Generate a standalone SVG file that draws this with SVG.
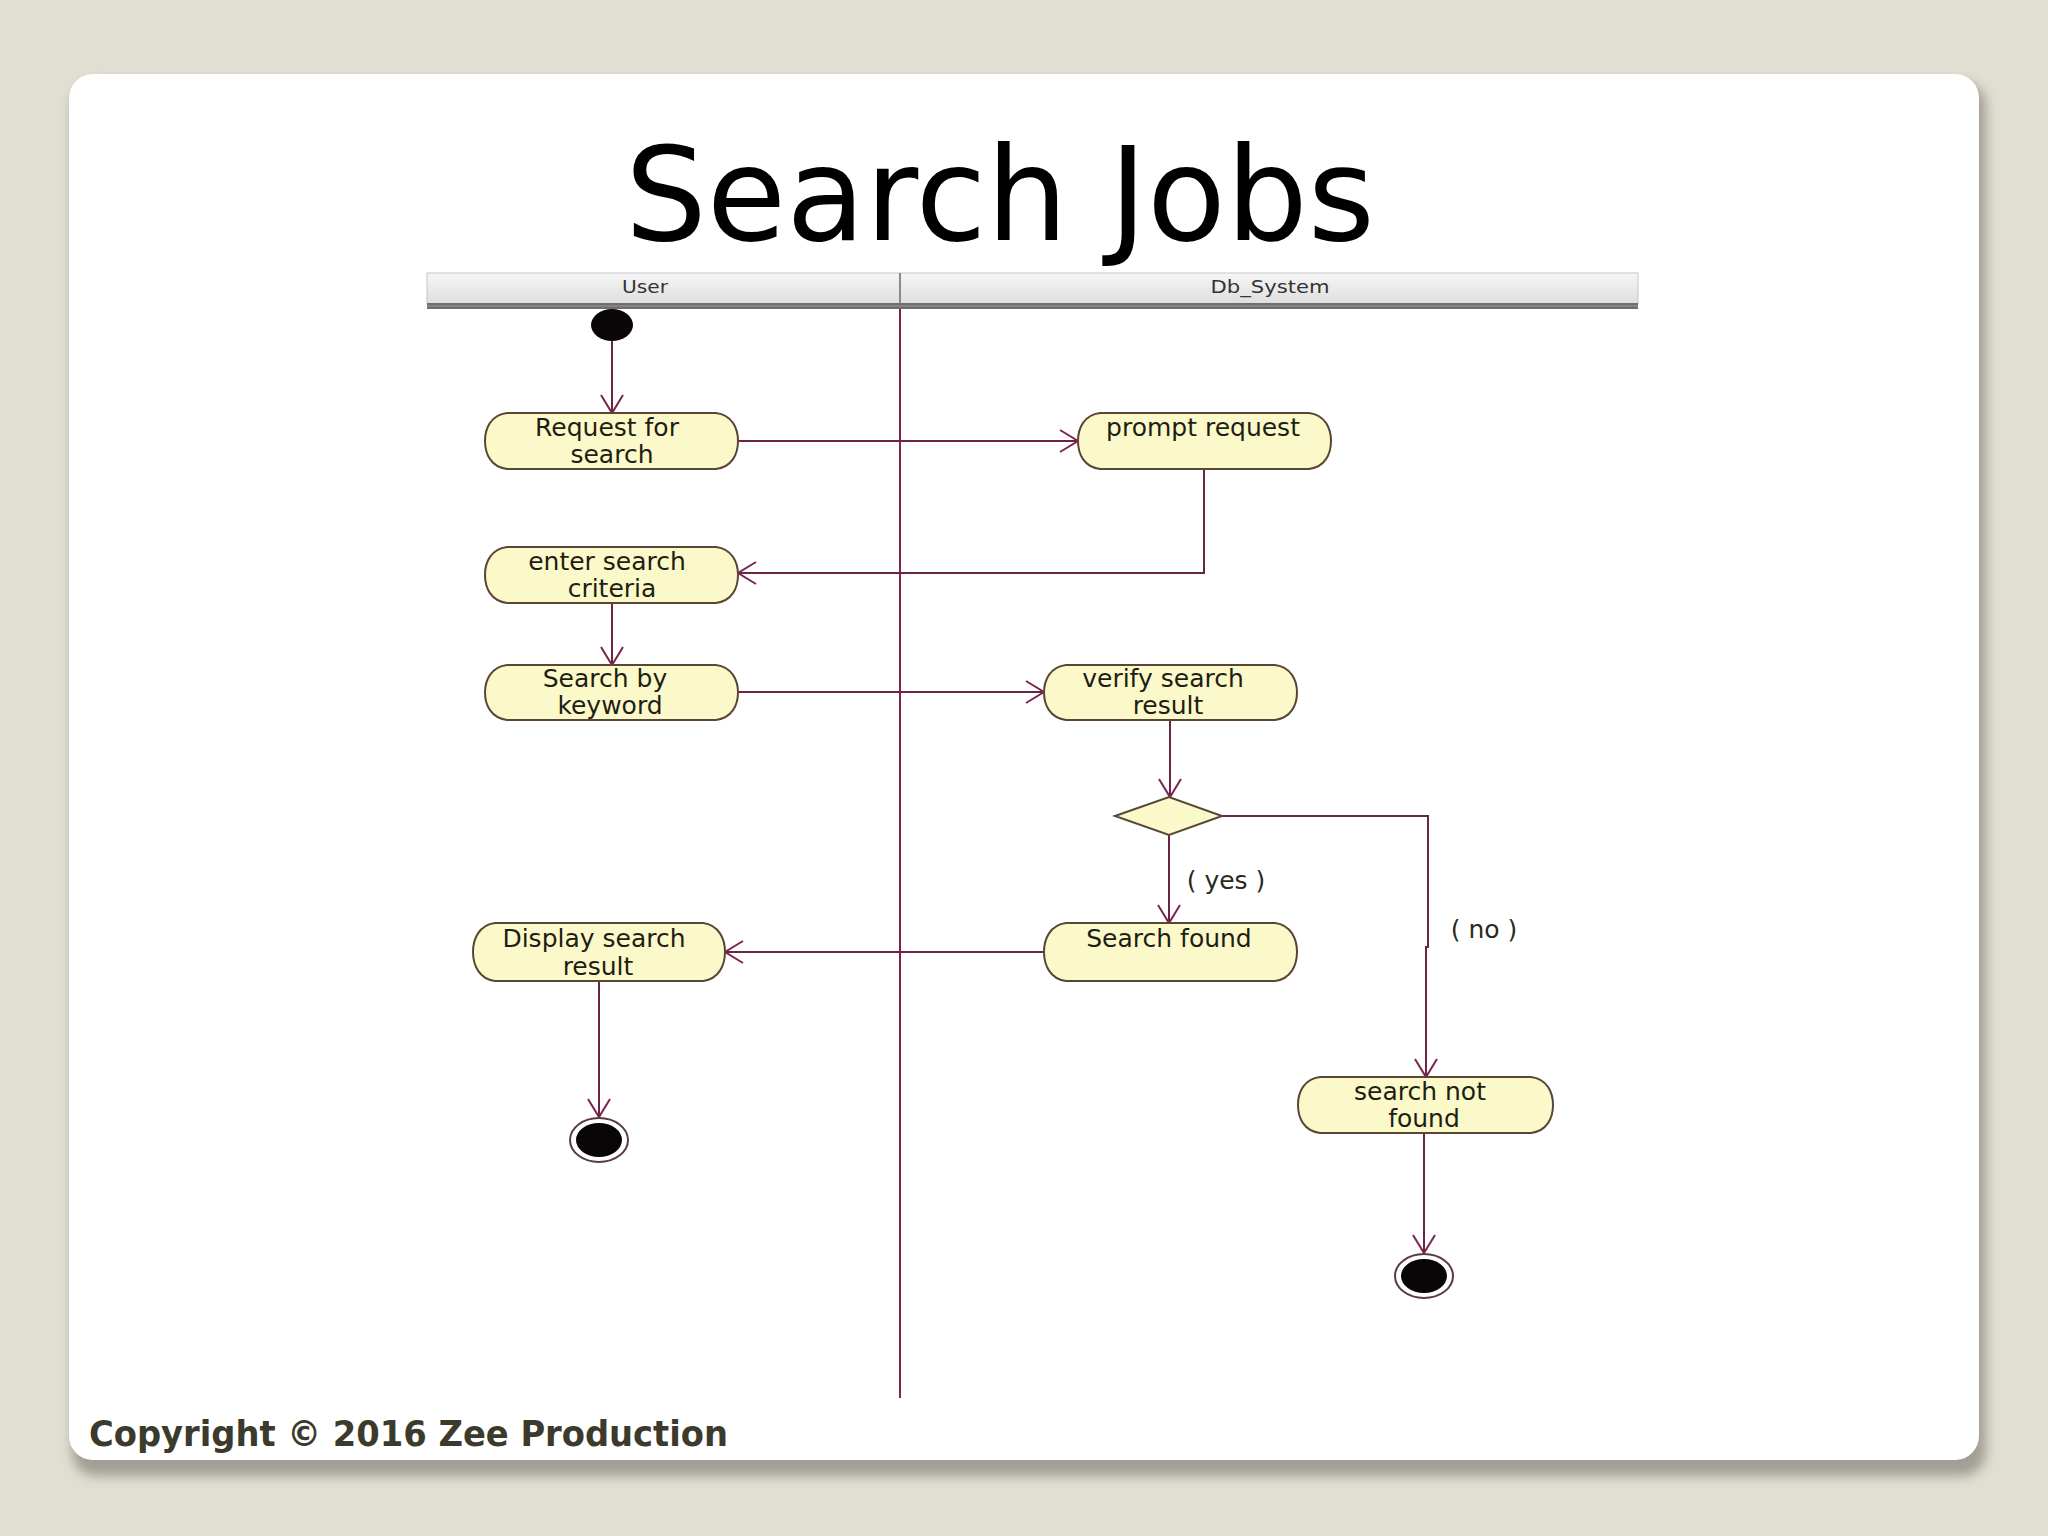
<svg xmlns="http://www.w3.org/2000/svg" width="2048" height="1536" viewBox="0 0 2048 1536">
<defs>
<style>
.node{fill:#fbf9c9;stroke:#5b4636;stroke-width:2}
.nt{font-family:"DejaVu Sans","Liberation Sans",sans-serif;font-size:25px;fill:#1e1e14;text-anchor:middle}
.lbl{font-family:"DejaVu Sans","Liberation Sans",sans-serif;font-size:25px;fill:#2a2a20;text-anchor:middle}
.conn{fill:none;stroke:#6b2444;stroke-width:2}
.hdr{font-family:"DejaVu Sans","Liberation Sans",sans-serif;font-size:18px;fill:#333;text-anchor:middle}
</style>
<linearGradient id="hg" x1="0" y1="0" x2="0" y2="1">
<stop offset="0" stop-color="#f6f6f6"/>
<stop offset="1" stop-color="#dedede"/>
</linearGradient>
<filter id="sh" x="-5%" y="-5%" width="110%" height="110%">
<feGaussianBlur stdDeviation="6"/>
</filter>
<marker id="arr" markerUnits="userSpaceOnUse" viewBox="-20 -13 22 26" refX="0" refY="0" markerWidth="22" markerHeight="26" orient="auto">
<path d="M-18,-11 L0,0 L-18,11" fill="none" stroke="#7a2450" stroke-width="2"/>
</marker>
</defs>
<rect x="0" y="0" width="2048" height="1536" fill="#e1ded2"/>
<rect x="72" y="82" width="1914" height="1394" rx="24" fill="#a29e94" filter="url(#sh)"/>
<rect x="69" y="74" width="1910" height="1386" rx="24" fill="#ffffff"/>
<text x="1000" y="240" font-family="DejaVu Sans, Verdana, sans-serif" font-size="130" text-anchor="middle" textLength="750" lengthAdjust="spacingAndGlyphs" fill="#000">Search Jobs</text>
<text x="89" y="1446" font-family="DejaVu Sans Condensed, DejaVu Sans, sans-serif" font-weight="bold" font-size="36" textLength="639" lengthAdjust="spacingAndGlyphs" fill="#3b3a2c">Copyright © 2016 Zee Production</text>

<g id="lanes">
<line x1="900" y1="305" x2="900" y2="1398" stroke="#7d2350" stroke-width="2"/>
</g>
<g id="start">
<ellipse cx="612" cy="325" rx="21" ry="16" fill="#0a0506"/>
</g>
<g id="header">
<rect x="427" y="273" width="1211" height="31" fill="url(#hg)" stroke="#c6c6c6" stroke-width="1"/>
<line x1="900" y1="273" x2="900" y2="304" stroke="#8a8a8a" stroke-width="2"/>
<rect x="427" y="303" width="1211" height="6" fill="#6e6e6e"/>
<line x1="427" y1="306" x2="1638" y2="306" stroke="#9a9a9a" stroke-width="1"/>
<text class="hdr" x="645" y="293" textLength="46" lengthAdjust="spacingAndGlyphs">User</text>
<text class="hdr" x="1270" y="293" textLength="119" lengthAdjust="spacingAndGlyphs">Db_System</text>
</g>

<g id="connectors">
<path class="conn" d="M612,341 V413" marker-end="url(#arr)"/>
<path class="conn" d="M738,441 H1078" marker-end="url(#arr)"/>
<path class="conn" d="M1204,469 V573 H738" marker-end="url(#arr)"/>
<path class="conn" d="M612,603 V665" marker-end="url(#arr)"/>
<path class="conn" d="M738,692 H1044" marker-end="url(#arr)"/>
<path class="conn" d="M1170,720 V797" marker-end="url(#arr)"/>
<path class="conn" d="M1169,835 V923" marker-end="url(#arr)"/>
<path class="conn" d="M1222,816 H1428 V947 H1426 V1077" marker-end="url(#arr)"/>
<path class="conn" d="M1044,952 H725" marker-end="url(#arr)"/>
<path class="conn" d="M599,981 V1117" marker-end="url(#arr)"/>
<path class="conn" d="M1424,1134 V1253" marker-end="url(#arr)"/>
<text class="lbl" x="1226" y="889">( yes )</text>
<text class="lbl" x="1484" y="938">( no )</text>
</g>

<g id="request">
<path class="node" d="M507,413 H716 C732,415 738,428 738,441 C738,454 732,467 716,469 H507 C491,467 485,454 485,441 C485,428 491,415 507,413 Z"/>
<text class="nt" x="607" y="436">Request for</text>
<text class="nt" x="612" y="463">search</text>
</g>
<g id="prompt">
<path class="node" d="M1100,413 H1309 C1325,415 1331,428 1331,441 C1331,454 1325,467 1309,469 H1100 C1084,467 1078,454 1078,441 C1078,428 1084,415 1100,413 Z"/>
<text class="nt" x="1203" y="436">prompt request</text>
</g>
<g id="enter">
<path class="node" d="M507,547 H716 C732,549 738,562 738,575 C738,588 732,601 716,603 H507 C491,601 485,588 485,575 C485,562 491,549 507,547 Z"/>
<text class="nt" x="607" y="570">enter search</text>
<text class="nt" x="612" y="597">criteria</text>
</g>
<g id="keyword">
<path class="node" d="M507,665 H716 C732,667 738,680 738,692.5 C738,705 732,718 716,720 H507 C491,718 485,705 485,692.5 C485,680 491,667 507,665 Z"/>
<text class="nt" x="605" y="687">Search by</text>
<text class="nt" x="610" y="714">keyword</text>
</g>
<g id="verify">
<path class="node" d="M1066,665 H1275 C1291,667 1297,680 1297,692.5 C1297,705 1291,718 1275,720 H1066 C1050,718 1044,705 1044,692.5 C1044,680 1050,667 1066,665 Z"/>
<text class="nt" x="1163" y="687">verify search</text>
<text class="nt" x="1168" y="714">result</text>
</g>
<g id="decision">
<polygon points="1115,816 1169,797 1222,816 1169,835" fill="#fbf9c9" stroke="#5b4636" stroke-width="2"/>
</g>
<g id="found">
<path class="node" d="M1066,923 H1275 C1291,925 1297,939 1297,952 C1297,965 1291,979 1275,981 H1066 C1050,979 1044,965 1044,952 C1044,939 1050,925 1066,923 Z"/>
<text class="nt" x="1169" y="947">Search found</text>
</g>
<g id="display">
<path class="node" d="M495,923 H703 C719,925 725,939 725,952 C725,965 719,979 703,981 H495 C479,979 473,965 473,952 C473,939 479,925 495,923 Z"/>
<text class="nt" x="594" y="947">Display search</text>
<text class="nt" x="598" y="975">result</text>
</g>
<g id="notfound">
<path class="node" d="M1320,1077 H1531 C1547,1079 1553,1092 1553,1105 C1553,1118 1547,1131 1531,1133 H1320 C1304,1131 1298,1118 1298,1105 C1298,1092 1304,1079 1320,1077 Z"/>
<text class="nt" x="1420" y="1100">search not</text>
<text class="nt" x="1424" y="1127">found</text>
</g>
<g id="end1">
<ellipse cx="599" cy="1140" rx="29" ry="22" fill="#fff" stroke="#5b3a40" stroke-width="2"/>
<ellipse cx="599" cy="1140" rx="23" ry="17" fill="#0a0506"/>
</g>
<g id="end2">
<ellipse cx="1424" cy="1276" rx="29" ry="22" fill="#fff" stroke="#5b3a40" stroke-width="2"/>
<ellipse cx="1424" cy="1276" rx="23" ry="17" fill="#0a0506"/>
</g>
</svg>
